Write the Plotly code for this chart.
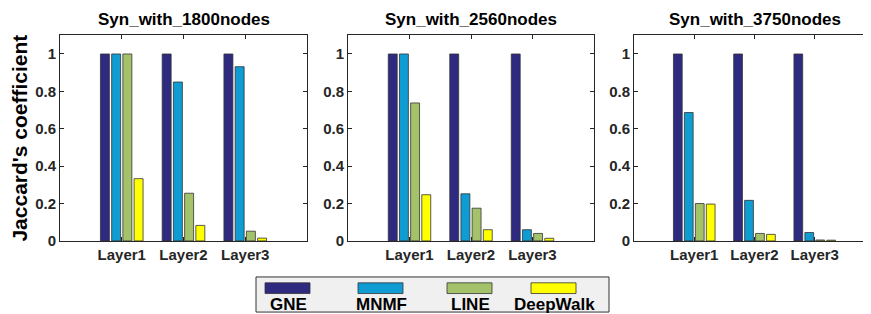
import plotly.graph_objects as go
from plotly.subplots import make_subplots

# ---- data ----
layers = ["Layer1", "Layer2", "Layer3"]
layer_pos = [1, 2, 3]
titles = ["Syn_with_1800nodes", "Syn_with_2560nodes", "Syn_with_3750nodes"]
methods = ["GNE", "MNMF", "LINE", "DeepWalk"]
colors = ["#2e2a80", "#0e9cd2", "#a4c26a", "#ffff00"]

gne_1800 = [1.0, 1.0, 1.0]
mnmf_1800 = [1.0, 0.85, 0.932]
line_1800 = [1.0, 0.255, 0.052]
deepwalk_1800 = [0.333, 0.083, 0.015]

gne_2560 = [1.0, 1.0, 1.0]
mnmf_2560 = [1.0, 0.252, 0.06]
line_2560 = [0.738, 0.175, 0.04]
deepwalk_2560 = [0.247, 0.06, 0.014]

gne_3750 = [1.0, 1.0, 1.0]
mnmf_3750 = [0.687, 0.217, 0.045]
line_3750 = [0.2, 0.04, 0.005]
deepwalk_3750 = [0.197, 0.035, 0.004]

panels = [
    [gne_1800, mnmf_1800, line_1800, deepwalk_1800],
    [gne_2560, mnmf_2560, line_2560, deepwalk_2560],
    [gne_3750, mnmf_3750, line_3750, deepwalk_3750],
]

y_ticks = [0, 0.2, 0.4, 0.6, 0.8, 1]

W, H = 871, 314
FONT = "Liberation Sans, Arial, Helvetica, sans-serif"
AX = "#262626"

fig = make_subplots(rows=1, cols=3)

for p, series in enumerate(panels):
    for m, vals in enumerate(series):
        fig.add_trace(
            go.Bar(
                x=layer_pos, y=vals, name=methods[m],
                marker=dict(color=colors[m], line=dict(color="#333333", width=0.8)),
                showlegend=False,
            ),
            row=1, col=p + 1,
        )

# domains in pixels
x_doms = [(52, 299), (340, 586), (626, 867)]
y_dom = (1 - 239 / H, 1 - 28 / H)

for i in range(3):
    xa = "xaxis" if i == 0 else f"xaxis{i+1}"
    ya = "yaxis" if i == 0 else f"yaxis{i+1}"
    fig.layout[xa].update(
        domain=[x_doms[i][0] / W, x_doms[i][1] / W],
        range=[0, 4], tickvals=layer_pos, ticktext=layers,
        ticks="inside", ticklen=4, tickcolor=AX, mirror="ticks",
        showline=True, linecolor=AX, linewidth=1, showgrid=False, zeroline=False,
        tickfont=dict(family=FONT, size=15, color=AX, weight="bold"),
    )
    fig.layout[ya].update(
        domain=list(y_dom), range=[0, 1.1], tickvals=y_ticks,
        ticktext=[("%g" % v) for v in y_ticks],
        ticks="inside", ticklen=4, tickcolor=AX, mirror="ticks",
        showline=True, linecolor=AX, linewidth=1, showgrid=False, zeroline=False,
        tickfont=dict(family=FONT, size=15, color=AX, weight="bold"),
    )
    fig.add_annotation(
        text=f"<b>{titles[i]}</b>", xref="paper", yref="paper",
        x=(x_doms[i][0] + x_doms[i][1]) / 2 / W, y=1 - 12 / H,
        showarrow=False, xanchor="center", yanchor="middle",
        font=dict(family=FONT, size=17, color="#000000"),
    )

fig.layout["yaxis"].title = dict(
    text="<b>Jaccard's coefficient</b>", standoff=6,
    font=dict(family=FONT, size=21, color="#000000"),
)

# ---- manual legend (swatch above label) ----
fig.add_shape(type="rect", xref="paper", yref="paper",
              x0=248 / W, x1=601 / W, y0=1 - 312 / H, y1=1 - 276 / H,
              fillcolor="#f0f0f0", line=dict(color="#333333", width=1), layer="below")
sw_x = [257, 350, 439, 523]
lab_x = [280, 373, 462, 546]
for k, name in enumerate(methods):
    fig.add_shape(type="rect", xref="paper", yref="paper",
                  x0=sw_x[k] / W, x1=(sw_x[k] + 45) / W,
                  y0=1 - 293 / H, y1=1 - 282 / H,
                  fillcolor=colors[k], line=dict(color="#333333", width=0.8))
    fig.add_annotation(text=f"<b>{name}</b>", xref="paper", yref="paper",
                       x=lab_x[k] / W, y=1 - 304 / H, showarrow=False,
                       xanchor="center", yanchor="middle",
                       font=dict(family=FONT, size=17, color="#000000"))

fig.update_layout(
    width=W, height=H, margin=dict(l=0, r=0, t=0, b=0),
    barmode="group", bargap=0.273, bargroupgap=0.2,
    paper_bgcolor="white", plot_bgcolor="white",
    font=dict(family=FONT),
)

fig.write_html("out.html")
